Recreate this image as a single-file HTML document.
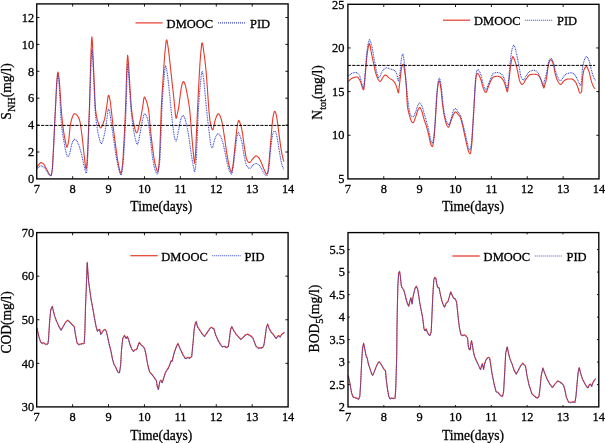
<!DOCTYPE html><html><head><meta charset="utf-8"><title>Figure</title><style>html,body{margin:0;padding:0;background:#fff}svg{display:block}text{font-family:"Liberation Serif","DejaVu Serif",serif;fill:#000;stroke:#000;stroke-width:0.3px}</style></head><body>
<svg width="605" height="443" viewBox="0 0 605 443">
<rect width="605" height="443" fill="#fff"/>
<path d="M36.75,167.60 L37.15,166.90 L37.55,166.25 L37.95,165.64 L38.35,165.08 L38.75,164.58 L39.15,164.14 L39.55,163.68 L39.95,163.23 L40.35,162.87 L40.75,162.64 L41.15,162.61 L41.55,162.70 L41.95,162.87 L42.35,163.11 L42.75,163.40 L43.15,163.71 L43.55,164.04 L43.95,164.46 L44.35,165.01 L44.75,165.67 L45.15,166.40 L45.55,167.18 L45.95,167.98 L46.35,168.78 L46.75,169.55 L47.15,170.27 L47.55,171.05 L47.95,171.86 L48.35,172.67 L48.75,173.42 L49.15,174.06 L49.55,174.55 L49.95,174.99 L50.35,175.36 L50.75,175.58 L51.15,175.33 L51.55,173.92 L51.95,171.67 L52.35,168.65 L52.75,162.64 L53.15,154.84 L53.55,147.17 L53.95,139.06 L54.35,130.60 L54.75,122.33 L55.15,114.15 L55.55,106.01 L55.95,97.41 L56.35,88.79 L56.75,82.36 L57.15,77.30 L57.55,73.35 L57.95,72.02 L58.35,73.37 L58.75,76.08 L59.15,79.28 L59.55,83.89 L59.95,89.46 L60.35,95.19 L60.75,101.69 L61.15,107.99 L61.55,113.03 L61.95,117.51 L62.35,121.51 L62.75,125.00 L63.15,128.07 L63.55,130.90 L63.95,133.50 L64.35,135.89 L64.75,138.06 L65.15,140.04 L65.55,142.10 L65.95,144.16 L66.35,145.89 L66.75,146.99 L67.15,147.12 L67.55,146.18 L67.95,144.48 L68.35,142.37 L68.75,140.05 L69.15,136.48 L69.55,132.16 L69.95,128.05 L70.35,125.12 L70.75,123.00 L71.15,121.15 L71.55,119.55 L71.95,118.23 L72.35,117.18 L72.75,116.24 L73.15,115.35 L73.55,114.59 L73.95,114.02 L74.35,113.73 L74.75,113.72 L75.15,113.85 L75.55,114.07 L75.95,114.35 L76.35,114.69 L76.75,115.06 L77.15,115.45 L77.55,115.92 L77.95,116.50 L78.35,117.19 L78.75,118.01 L79.15,118.96 L79.55,120.05 L79.95,121.62 L80.35,123.77 L80.75,126.35 L81.15,129.21 L81.55,132.20 L81.95,135.17 L82.35,138.43 L82.75,142.08 L83.15,145.93 L83.55,149.80 L83.95,153.49 L84.35,156.82 L84.75,160.09 L85.15,163.60 L85.55,166.70 L85.95,168.70 L86.35,168.80 L86.75,165.65 L87.15,160.66 L87.55,153.35 L87.95,143.85 L88.35,134.17 L88.75,124.16 L89.15,114.43 L89.55,103.47 L89.95,88.70 L90.35,73.04 L90.75,60.75 L91.15,49.12 L91.55,39.95 L91.95,36.87 L92.35,41.36 L92.75,49.74 L93.15,58.04 L93.55,67.26 L93.95,77.05 L94.35,86.06 L94.75,95.09 L95.15,103.61 L95.55,109.54 L95.95,112.71 L96.35,115.29 L96.75,117.41 L97.15,119.16 L97.55,120.64 L97.95,121.94 L98.35,123.17 L98.75,124.41 L99.15,125.57 L99.55,126.58 L99.95,127.36 L100.35,127.81 L100.75,127.88 L101.15,127.65 L101.55,127.17 L101.95,126.48 L102.35,125.62 L102.75,124.61 L103.15,123.49 L103.55,122.28 L103.95,121.02 L104.35,119.74 L104.75,118.14 L105.15,116.13 L105.55,113.82 L105.95,111.33 L106.35,108.79 L106.75,106.30 L107.15,103.48 L107.55,100.11 L107.95,97.06 L108.35,95.27 L108.75,95.30 L109.15,96.32 L109.55,97.92 L109.95,99.77 L110.35,102.08 L110.75,105.29 L111.15,108.90 L111.55,112.42 L111.95,115.97 L112.35,119.64 L112.75,123.25 L113.15,126.65 L113.55,129.91 L113.95,133.09 L114.35,136.19 L114.75,139.24 L115.15,142.22 L115.55,145.17 L115.95,148.16 L116.35,151.20 L116.75,154.18 L117.15,157.01 L117.55,159.60 L117.95,161.85 L118.35,163.90 L118.75,166.02 L119.15,168.08 L119.55,169.96 L119.95,171.53 L120.35,172.67 L120.75,173.25 L121.15,173.02 L121.55,171.56 L121.95,169.17 L122.35,166.19 L122.75,162.31 L123.15,156.00 L123.55,148.86 L123.95,141.95 L124.35,134.58 L124.75,126.48 L125.15,117.26 L125.55,106.89 L125.95,95.50 L126.35,82.14 L126.75,70.80 L127.15,60.92 L127.55,55.19 L127.95,56.92 L128.35,61.74 L128.75,66.98 L129.15,73.36 L129.55,80.49 L129.95,87.24 L130.35,93.38 L130.75,99.51 L131.15,105.09 L131.55,109.55 L131.95,112.92 L132.35,115.91 L132.75,118.57 L133.15,120.92 L133.55,122.98 L133.95,124.78 L134.35,126.42 L134.75,128.06 L135.15,129.63 L135.55,131.00 L135.95,132.06 L136.35,132.68 L136.75,132.76 L137.15,132.33 L137.55,131.47 L137.95,130.26 L138.35,128.77 L138.75,127.07 L139.15,125.24 L139.55,123.35 L139.95,121.47 L140.35,119.68 L140.75,117.78 L141.15,115.67 L141.55,113.40 L141.95,111.04 L142.35,108.65 L142.75,106.29 L143.15,103.57 L143.55,100.41 L143.95,97.88 L144.35,97.00 L144.75,97.32 L145.15,98.01 L145.55,98.91 L145.95,99.88 L146.35,100.89 L146.75,102.10 L147.15,103.48 L147.55,105.05 L147.95,106.77 L148.35,108.73 L148.75,111.15 L149.15,114.40 L149.55,119.37 L149.95,124.46 L150.35,128.57 L150.75,132.45 L151.15,136.13 L151.55,139.62 L151.95,142.93 L152.35,146.07 L152.75,149.08 L153.15,152.09 L153.55,155.00 L153.95,157.74 L154.35,160.21 L154.75,162.31 L155.15,164.00 L155.55,165.61 L155.95,167.17 L156.35,168.61 L156.75,169.85 L157.15,170.81 L157.55,171.42 L157.95,171.58 L158.35,170.12 L158.75,166.87 L159.15,162.57 L159.55,155.68 L159.95,145.99 L160.35,135.19 L160.75,123.40 L161.15,111.19 L161.55,102.76 L161.95,95.75 L162.35,89.58 L162.75,83.73 L163.15,77.70 L163.55,71.48 L163.95,65.38 L164.35,59.68 L164.75,54.67 L165.15,50.49 L165.55,46.31 L165.95,42.60 L166.35,40.18 L166.75,39.82 L167.15,41.18 L167.55,43.54 L167.95,46.32 L168.35,49.00 L168.75,52.01 L169.15,55.40 L169.55,58.97 L169.95,62.54 L170.35,66.20 L170.75,70.01 L171.15,73.86 L171.55,77.68 L171.95,81.36 L172.35,84.89 L172.75,88.37 L173.15,91.88 L173.55,95.53 L173.95,99.48 L174.35,103.67 L174.75,107.71 L175.15,111.39 L175.55,115.38 L175.95,118.13 L176.35,118.10 L176.75,116.67 L177.15,114.67 L177.55,112.79 L177.95,111.13 L178.35,109.31 L178.75,107.09 L179.15,104.13 L179.55,100.72 L179.95,97.23 L180.35,94.04 L180.75,91.33 L181.15,88.70 L181.55,86.37 L181.95,84.66 L182.35,83.48 L182.75,82.45 L183.15,81.73 L183.55,81.50 L183.95,81.86 L184.35,82.65 L184.75,83.70 L185.15,84.86 L185.55,86.17 L185.95,87.87 L186.35,89.84 L186.75,91.97 L187.15,94.13 L187.55,96.26 L187.95,98.41 L188.35,100.65 L188.75,103.08 L189.15,105.76 L189.55,108.77 L189.95,112.36 L190.35,116.98 L190.75,122.26 L191.15,127.75 L191.55,132.99 L191.95,137.75 L192.35,142.51 L192.75,147.14 L193.15,151.41 L193.55,155.14 L193.95,158.97 L194.35,162.24 L194.75,163.34 L195.15,159.50 L195.55,152.82 L195.95,145.12 L196.35,135.91 L196.75,126.90 L197.15,117.72 L197.55,108.94 L197.95,100.49 L198.35,92.29 L198.75,84.53 L199.15,77.35 L199.55,70.34 L199.95,63.73 L200.35,57.97 L200.75,53.35 L201.15,48.89 L201.55,45.08 L201.95,42.90 L202.35,43.04 L202.75,44.73 L203.15,47.33 L203.55,50.26 L203.95,53.00 L204.35,55.85 L204.75,58.97 L205.15,62.37 L205.55,66.04 L205.95,70.02 L206.35,74.59 L206.75,79.75 L207.15,85.21 L207.55,90.69 L207.95,96.64 L208.35,102.81 L208.75,108.30 L209.15,112.60 L209.55,116.57 L209.95,120.13 L210.35,123.07 L210.75,125.20 L211.15,126.71 L211.55,128.06 L211.95,129.13 L212.35,129.78 L212.75,129.83 L213.15,129.08 L213.55,127.68 L213.95,125.86 L214.35,123.84 L214.75,121.85 L215.15,120.12 L215.55,118.87 L215.95,117.84 L216.35,116.80 L216.75,115.81 L217.15,114.95 L217.55,114.27 L217.95,113.83 L218.35,113.70 L218.75,113.90 L219.15,114.37 L219.55,115.02 L219.95,115.79 L220.35,116.60 L220.75,117.63 L221.15,118.96 L221.55,120.51 L221.95,122.18 L222.35,124.04 L222.75,126.19 L223.15,128.57 L223.55,131.10 L223.95,133.71 L224.35,136.33 L224.75,138.96 L225.15,141.78 L225.55,144.72 L225.95,147.67 L226.35,150.52 L226.75,153.18 L227.15,155.57 L227.55,157.86 L227.95,160.09 L228.35,162.20 L228.75,164.13 L229.15,165.83 L229.55,167.27 L229.95,168.63 L230.35,169.96 L230.75,171.10 L231.15,171.86 L231.55,172.09 L231.95,171.16 L232.35,169.15 L232.75,166.61 L233.15,163.98 L233.55,160.59 L233.95,156.65 L234.35,152.67 L234.75,148.83 L235.15,144.84 L235.55,140.86 L235.95,137.04 L236.35,133.48 L236.75,129.88 L237.15,126.63 L237.55,124.26 L237.95,122.37 L238.35,120.90 L238.75,120.41 L239.15,120.82 L239.55,121.70 L239.95,122.81 L240.35,123.91 L240.75,125.17 L241.15,126.63 L241.55,128.29 L241.95,130.14 L242.35,132.43 L242.75,135.18 L243.15,138.19 L243.55,141.27 L243.95,144.24 L244.35,146.90 L244.75,149.35 L245.15,151.90 L245.55,154.36 L245.95,156.59 L246.35,158.39 L246.75,159.60 L247.15,160.35 L247.55,161.03 L247.95,161.62 L248.35,162.09 L248.75,162.42 L249.15,162.59 L249.55,162.56 L249.95,162.36 L250.35,162.02 L250.75,161.56 L251.15,161.03 L251.55,160.45 L251.95,159.86 L252.35,159.29 L252.75,158.78 L253.15,158.35 L253.55,157.93 L253.95,157.47 L254.35,157.02 L254.75,156.60 L255.15,156.25 L255.55,156.01 L255.95,155.90 L256.35,155.95 L256.75,156.10 L257.15,156.33 L257.55,156.64 L257.95,156.99 L258.35,157.36 L258.75,157.77 L259.15,158.35 L259.55,159.04 L259.95,159.81 L260.35,160.61 L260.75,161.40 L261.15,162.28 L261.55,163.22 L261.95,164.20 L262.35,165.21 L262.75,166.23 L263.15,167.22 L263.55,168.18 L263.95,169.08 L264.35,169.91 L264.75,170.83 L265.15,171.79 L265.55,172.70 L265.95,173.45 L266.35,173.95 L266.75,174.09 L267.15,173.64 L267.55,172.58 L267.95,171.08 L268.35,169.10 L268.75,165.06 L269.15,160.26 L269.55,155.78 L269.95,151.10 L270.35,146.32 L270.75,141.56 L271.15,136.79 L271.55,131.78 L271.95,126.97 L272.35,122.84 L272.75,119.42 L273.15,116.40 L273.55,114.20 L273.95,112.73 L274.35,111.59 L274.75,111.21 L275.15,111.63 L275.55,112.53 L275.95,113.65 L276.35,115.37 L276.75,117.71 L277.15,120.21 L277.55,122.92 L277.95,125.91 L278.35,129.05 L278.75,132.18 L279.15,135.16 L279.55,138.11 L279.95,141.11 L280.35,144.08 L280.75,146.92 L281.15,149.57 L281.55,151.93 L281.95,153.99 L282.35,155.85 L282.75,157.53 L283.15,159.06 L283.55,160.44 L283.95,161.68" fill="none" stroke="#e63a2b" stroke-width="1.1" stroke-linejoin="round"/>
<path d="M36.75,168.90 L37.15,168.44 L37.55,168.01 L37.95,167.61 L38.35,167.26 L38.75,166.96 L39.15,166.71 L39.55,166.46 L39.95,166.23 L40.35,166.04 L40.75,165.92 L41.15,165.91 L41.55,165.98 L41.95,166.11 L42.35,166.30 L42.75,166.53 L43.15,166.78 L43.55,167.03 L43.95,167.35 L44.35,167.77 L44.75,168.26 L45.15,168.80 L45.55,169.38 L45.95,169.98 L46.35,170.58 L46.75,171.16 L47.15,171.71 L47.55,172.30 L47.95,172.92 L48.35,173.54 L48.75,174.12 L49.15,174.63 L49.55,175.05 L49.95,175.43 L50.35,175.78 L50.75,175.98 L51.15,175.73 L51.55,174.35 L51.95,172.14 L52.35,169.18 L52.75,163.37 L53.15,155.77 L53.55,148.16 L53.95,139.90 L54.35,131.25 L54.75,122.94 L55.15,114.83 L55.55,106.96 L55.95,99.09 L56.35,91.44 L56.75,85.35 L57.15,79.96 L57.55,75.88 L57.95,75.16 L58.35,76.83 L58.75,79.62 L59.15,84.25 L59.55,91.14 L59.95,98.91 L60.35,107.30 L60.75,114.08 L61.15,120.08 L61.55,124.91 L61.95,128.53 L62.35,131.65 L62.75,134.39 L63.15,136.86 L63.55,139.17 L63.95,141.44 L64.35,143.74 L64.75,145.99 L65.15,148.13 L65.55,150.09 L65.95,151.81 L66.35,153.44 L66.75,155.07 L67.15,156.29 L67.55,156.70 L67.95,156.56 L68.35,156.24 L68.75,155.80 L69.15,155.26 L69.55,154.17 L69.95,152.58 L70.35,150.67 L70.75,148.63 L71.15,146.65 L71.55,144.92 L71.95,143.62 L72.35,142.67 L72.75,141.73 L73.15,140.87 L73.55,140.14 L73.95,139.60 L74.35,139.32 L74.75,139.33 L75.15,139.47 L75.55,139.71 L75.95,140.02 L76.35,140.36 L76.75,140.77 L77.15,141.36 L77.55,142.11 L77.95,142.95 L78.35,143.84 L78.75,144.86 L79.15,146.00 L79.55,147.25 L79.95,148.59 L80.35,150.01 L80.75,151.49 L81.15,153.00 L81.55,154.54 L81.95,156.10 L82.35,157.79 L82.75,159.64 L83.15,161.57 L83.55,163.49 L83.95,165.30 L84.35,166.92 L84.75,168.47 L85.15,170.13 L85.55,171.65 L85.95,172.79 L86.35,173.29 L86.75,171.53 L87.15,166.61 L87.55,160.53 L87.95,151.66 L88.35,141.33 L88.75,129.58 L89.15,119.04 L89.55,109.11 L89.95,96.94 L90.35,82.55 L90.75,70.79 L91.15,60.77 L91.55,52.63 L91.95,49.85 L92.35,53.28 L92.75,59.60 L93.15,66.36 L93.55,74.85 L93.95,83.90 L94.35,93.51 L94.75,103.50 L95.15,110.66 L95.55,115.32 L95.95,119.10 L96.35,122.25 L96.75,125.06 L97.15,127.72 L97.55,130.22 L97.95,132.54 L98.35,134.64 L98.75,136.50 L99.15,138.08 L99.55,139.44 L99.95,140.79 L100.35,142.02 L100.75,142.95 L101.15,143.46 L101.55,143.40 L101.95,142.89 L102.35,141.99 L102.75,140.80 L103.15,139.38 L103.55,137.82 L103.95,136.20 L104.35,134.60 L104.75,132.75 L105.15,130.54 L105.55,128.07 L105.95,125.46 L106.35,122.80 L106.75,120.21 L107.15,117.30 L107.55,113.86 L107.95,110.78 L108.35,108.97 L108.75,108.99 L109.15,109.90 L109.55,111.18 L109.95,113.43 L110.35,116.36 L110.75,119.07 L111.15,121.81 L111.55,124.59 L111.95,127.41 L112.35,130.23 L112.75,133.05 L113.15,135.85 L113.55,138.71 L113.95,141.60 L114.35,144.47 L114.75,147.28 L115.15,149.98 L115.55,152.51 L115.95,154.97 L116.35,157.42 L116.75,159.77 L117.15,161.98 L117.55,163.98 L117.95,165.71 L118.35,167.27 L118.75,168.86 L119.15,170.41 L119.55,171.86 L119.95,173.12 L120.35,174.13 L120.75,174.81 L121.15,175.10 L121.55,174.45 L121.95,172.48 L122.35,169.78 L122.75,166.82 L123.15,162.72 L123.55,157.75 L123.95,151.83 L124.35,145.06 L124.75,137.68 L125.15,129.89 L125.55,121.47 L125.95,111.86 L126.35,99.94 L126.75,83.39 L127.15,71.04 L127.55,63.43 L127.95,65.25 L128.35,70.14 L128.75,75.28 L129.15,81.53 L129.55,88.14 L129.95,94.21 L130.35,100.17 L130.75,105.79 L131.15,110.53 L131.55,114.55 L131.95,118.16 L132.35,121.42 L132.75,124.37 L133.15,127.07 L133.55,129.64 L133.95,132.06 L134.35,134.28 L134.75,136.28 L135.15,138.02 L135.55,139.56 L135.95,141.12 L136.35,142.54 L136.75,143.65 L137.15,144.25 L137.55,144.15 L137.95,143.37 L138.35,142.03 L138.75,140.28 L139.15,138.26 L139.55,136.13 L139.95,134.02 L140.35,132.07 L140.75,129.98 L141.15,127.65 L141.55,125.22 L141.95,122.85 L142.35,120.69 L142.75,118.89 L143.15,117.32 L143.55,115.76 L143.95,114.48 L144.35,113.76 L144.75,113.75 L145.15,114.01 L145.55,114.43 L145.95,114.94 L146.35,115.57 L146.75,116.47 L147.15,117.62 L147.55,118.97 L147.95,120.53 L148.35,122.65 L148.75,125.29 L149.15,128.28 L149.55,131.45 L149.95,134.61 L150.35,137.91 L150.75,141.63 L151.15,145.54 L151.55,149.42 L151.95,153.05 L152.35,156.19 L152.75,158.78 L153.15,161.21 L153.55,163.48 L153.95,165.55 L154.35,167.35 L154.75,168.85 L155.15,170.01 L155.55,171.09 L155.95,172.10 L156.35,172.97 L156.75,173.64 L157.15,174.03 L157.55,173.99 L157.95,172.75 L158.35,170.64 L158.75,168.28 L159.15,165.96 L159.55,163.10 L159.95,159.09 L160.35,151.62 L160.75,141.47 L161.15,130.98 L161.55,119.01 L161.95,108.98 L162.35,101.47 L162.75,94.96 L163.15,89.33 L163.55,84.41 L163.95,79.49 L164.35,74.59 L164.75,70.30 L165.15,67.18 L165.55,65.82 L165.95,66.29 L166.35,67.84 L166.75,70.11 L167.15,72.72 L167.55,75.32 L167.95,78.25 L168.35,81.72 L168.75,85.54 L169.15,89.53 L169.55,93.49 L169.95,97.66 L170.35,102.05 L170.75,106.41 L171.15,110.49 L171.55,114.38 L171.95,118.15 L172.35,121.73 L172.75,125.01 L173.15,128.16 L173.55,131.34 L173.95,134.29 L174.35,136.75 L174.75,138.45 L175.15,139.55 L175.55,140.45 L175.95,140.95 L176.35,140.79 L176.75,139.71 L177.15,137.93 L177.55,135.74 L177.95,133.38 L178.35,131.13 L178.75,129.19 L179.15,127.15 L179.55,124.98 L179.95,122.86 L180.35,120.95 L180.75,119.40 L181.15,118.35 L181.55,117.43 L181.95,116.61 L182.35,115.96 L182.75,115.57 L183.15,115.53 L183.55,115.87 L183.95,116.47 L184.35,117.21 L184.75,118.06 L185.15,119.24 L185.55,120.67 L185.95,122.21 L186.35,123.82 L186.75,125.59 L187.15,127.50 L187.55,129.54 L187.95,131.69 L188.35,133.94 L188.75,136.32 L189.15,138.98 L189.55,141.83 L189.95,144.78 L190.35,147.72 L190.75,150.54 L191.15,153.17 L191.55,155.77 L191.95,158.36 L192.35,160.87 L192.75,163.25 L193.15,165.42 L193.55,167.33 L193.95,169.31 L194.35,171.00 L194.75,171.58 L195.15,170.16 L195.55,167.20 L195.95,163.39 L196.35,157.00 L196.75,149.02 L197.15,139.69 L197.55,129.09 L197.95,119.50 L198.35,110.90 L198.75,104.18 L199.15,98.23 L199.55,93.01 L199.95,88.51 L200.35,84.32 L200.75,80.05 L201.15,76.19 L201.55,73.23 L201.95,71.64 L202.35,71.82 L202.75,73.38 L203.15,75.74 L203.55,78.33 L203.95,81.66 L204.35,85.85 L204.75,90.32 L205.15,94.57 L205.55,98.89 L205.95,103.28 L206.35,107.52 L206.75,111.43 L207.15,115.10 L207.55,118.63 L207.95,122.04 L208.35,125.38 L208.75,128.67 L209.15,132.06 L209.55,135.76 L209.95,139.38 L210.35,142.48 L210.75,144.62 L211.15,145.94 L211.55,147.03 L211.95,147.64 L212.35,147.54 L212.75,146.70 L213.15,145.35 L213.55,143.73 L213.95,142.05 L214.35,140.55 L214.75,139.41 L215.15,138.33 L215.55,137.27 L215.95,136.27 L216.35,135.40 L216.75,134.71 L217.15,134.26 L217.55,133.93 L217.95,133.68 L218.35,133.60 L218.75,133.80 L219.15,134.24 L219.55,134.82 L219.95,135.43 L220.35,136.06 L220.75,136.80 L221.15,137.66 L221.55,138.61 L221.95,139.66 L222.35,140.86 L222.75,142.26 L223.15,143.82 L223.55,145.51 L223.95,147.26 L224.35,149.04 L224.75,150.85 L225.15,152.83 L225.55,154.93 L225.95,157.06 L226.35,159.12 L226.75,161.02 L227.15,162.71 L227.55,164.34 L227.95,165.91 L228.35,167.40 L228.75,168.75 L229.15,169.94 L229.55,170.91 L229.95,171.82 L230.35,172.70 L230.75,173.44 L231.15,173.94 L231.55,174.09 L231.95,173.29 L232.35,171.56 L232.75,169.38 L233.15,167.13 L233.55,164.27 L233.95,160.96 L234.35,157.60 L234.75,154.32 L235.15,150.89 L235.55,147.47 L235.95,144.20 L236.35,141.18 L236.75,138.21 L237.15,135.70 L237.55,133.96 L237.95,132.60 L238.35,132.35 L238.75,132.87 L239.15,133.78 L239.55,134.85 L239.95,135.87 L240.35,136.95 L240.75,138.13 L241.15,139.45 L241.55,140.90 L241.95,142.51 L242.35,144.53 L242.75,146.98 L243.15,149.64 L243.55,152.33 L243.95,154.84 L244.35,156.97 L244.75,158.78 L245.15,160.56 L245.55,162.23 L245.95,163.72 L246.35,164.94 L246.75,165.82 L247.15,166.44 L247.55,167.02 L247.95,167.53 L248.35,167.94 L248.75,168.24 L249.15,168.39 L249.55,168.37 L249.95,168.21 L250.35,167.93 L250.75,167.56 L251.15,167.14 L251.55,166.68 L251.95,166.21 L252.35,165.77 L252.75,165.38 L253.15,165.06 L253.55,164.77 L253.95,164.45 L254.35,164.14 L254.75,163.86 L255.15,163.63 L255.55,163.47 L255.95,163.40 L256.35,163.44 L256.75,163.58 L257.15,163.80 L257.55,164.07 L257.95,164.37 L258.35,164.68 L258.75,165.01 L259.15,165.41 L259.55,165.87 L259.95,166.37 L260.35,166.90 L260.75,167.45 L261.15,168.08 L261.55,168.77 L261.95,169.50 L262.35,170.25 L262.75,170.99 L263.15,171.71 L263.55,172.37 L263.95,172.97 L264.35,173.49 L264.75,174.02 L265.15,174.56 L265.55,175.05 L265.95,175.45 L266.35,175.72 L266.75,175.79 L267.15,175.35 L267.55,174.34 L267.95,172.96 L268.35,171.29 L268.75,168.47 L269.15,165.03 L269.55,161.29 L269.95,156.96 L270.35,152.53 L270.75,148.50 L271.15,145.11 L271.55,141.72 L271.95,138.54 L272.35,135.88 L272.75,134.03 L273.15,133.05 L273.55,132.25 L273.95,131.62 L274.35,131.22 L274.75,131.10 L275.15,131.41 L275.55,132.06 L275.95,132.89 L276.35,134.02 L276.75,135.67 L277.15,137.54 L277.55,139.71 L277.95,142.22 L278.35,144.89 L278.75,147.54 L279.15,149.99 L279.55,152.39 L279.95,154.83 L280.35,157.21 L280.75,159.46 L281.15,161.49 L281.55,163.21 L281.95,164.62 L282.35,165.84 L282.75,166.90 L283.15,167.84 L283.55,168.66 L283.95,169.37" fill="none" stroke="#3040c8" stroke-width="1.1" stroke-linejoin="round" stroke-dasharray="0.9 0.8"/>
<line x1="36.75" y1="125.40" x2="288.10" y2="125.40" stroke="#000" stroke-width="1.0" stroke-dasharray="3.2 1.1"/>
<rect x="36.75" y="3.90" width="251.35" height="175.00" fill="none" stroke="#000" stroke-width="1.35"/>
<text transform="translate(36.75,192.50) scale(0.940,1)" font-size="13.2" text-anchor="middle">7</text>
<path d="M72.66,178.90 v-2.7 M72.66,3.90 v2.7" stroke="#000" stroke-width="0.9"/>
<text transform="translate(72.66,192.50) scale(0.940,1)" font-size="13.2" text-anchor="middle">8</text>
<path d="M108.56,178.90 v-2.7 M108.56,3.90 v2.7" stroke="#000" stroke-width="0.9"/>
<text transform="translate(108.56,192.50) scale(0.940,1)" font-size="13.2" text-anchor="middle">9</text>
<path d="M144.47,178.90 v-2.7 M144.47,3.90 v2.7" stroke="#000" stroke-width="0.9"/>
<text transform="translate(144.47,192.50) scale(0.940,1)" font-size="13.2" text-anchor="middle">10</text>
<path d="M180.38,178.90 v-2.7 M180.38,3.90 v2.7" stroke="#000" stroke-width="0.9"/>
<text transform="translate(180.38,192.50) scale(0.940,1)" font-size="13.2" text-anchor="middle">11</text>
<path d="M216.29,178.90 v-2.7 M216.29,3.90 v2.7" stroke="#000" stroke-width="0.9"/>
<text transform="translate(216.29,192.50) scale(0.940,1)" font-size="13.2" text-anchor="middle">12</text>
<path d="M252.19,178.90 v-2.7 M252.19,3.90 v2.7" stroke="#000" stroke-width="0.9"/>
<text transform="translate(252.19,192.50) scale(0.940,1)" font-size="13.2" text-anchor="middle">13</text>
<text transform="translate(288.10,192.50) scale(0.940,1)" font-size="13.2" text-anchor="middle">14</text>
<text transform="translate(34.15,183.10) scale(0.940,1)" font-size="13.2" text-anchor="end">0</text>
<path d="M36.75,152.00 h2.7 M288.10,152.00 h-2.7" stroke="#000" stroke-width="0.9"/>
<text transform="translate(34.15,156.20) scale(0.940,1)" font-size="13.2" text-anchor="end">2</text>
<path d="M36.75,125.10 h2.7 M288.10,125.10 h-2.7" stroke="#000" stroke-width="0.9"/>
<text transform="translate(34.15,129.30) scale(0.940,1)" font-size="13.2" text-anchor="end">4</text>
<path d="M36.75,98.20 h2.7 M288.10,98.20 h-2.7" stroke="#000" stroke-width="0.9"/>
<text transform="translate(34.15,102.40) scale(0.940,1)" font-size="13.2" text-anchor="end">6</text>
<path d="M36.75,71.30 h2.7 M288.10,71.30 h-2.7" stroke="#000" stroke-width="0.9"/>
<text transform="translate(34.15,75.50) scale(0.940,1)" font-size="13.2" text-anchor="end">8</text>
<path d="M36.75,44.40 h2.7 M288.10,44.40 h-2.7" stroke="#000" stroke-width="0.9"/>
<text transform="translate(34.15,48.60) scale(0.940,1)" font-size="13.2" text-anchor="end">10</text>
<path d="M36.75,17.50 h2.7 M288.10,17.50 h-2.7" stroke="#000" stroke-width="0.9"/>
<text transform="translate(34.15,21.70) scale(0.940,1)" font-size="13.2" text-anchor="end">12</text>
<text transform="translate(161.30,211.40) scale(0.940,1)" font-size="14.4" text-anchor="middle">Time(days)</text>
<text transform="translate(11.20,91.50) rotate(-90) scale(0.940,1)" font-size="14.4" text-anchor="middle">S<tspan font-size="11" dy="4.0">NH</tspan><tspan dy="-4.0">(mg/l)</tspan></text>
<line x1="135.50" y1="22.90" x2="162.60" y2="22.90" stroke="#e63a2b" stroke-width="1.2"/>
<text transform="translate(166.60,27.60) scale(0.955,1)" font-size="13.1" text-anchor="start">DMOOC</text>
<line x1="218.00" y1="22.90" x2="246.00" y2="22.90" stroke="#3040c8" stroke-width="1.1" stroke-dasharray="1 1"/>
<text transform="translate(250.00,27.60) scale(0.955,1)" font-size="13.1" text-anchor="start">PID</text>
<path d="M348.50,81.40 L348.90,80.94 L349.30,80.51 L349.70,80.10 L350.10,79.72 L350.50,79.38 L350.90,79.07 L351.30,78.79 L351.70,78.53 L352.10,78.29 L352.50,78.07 L352.90,77.88 L353.30,77.73 L353.70,77.61 L354.10,77.50 L354.50,77.39 L354.90,77.29 L355.30,77.21 L355.70,77.13 L356.10,77.07 L356.50,77.03 L356.90,77.00 L357.30,77.02 L357.70,77.21 L358.10,77.56 L358.50,78.03 L358.90,78.61 L359.30,79.27 L359.70,79.97 L360.10,80.70 L360.50,81.66 L360.90,82.94 L361.30,84.37 L361.70,85.76 L362.10,86.90 L362.50,87.94 L362.90,88.97 L363.30,89.70 L363.70,89.74 L364.10,86.88 L364.50,83.10 L364.90,78.94 L365.30,74.50 L365.70,69.93 L366.10,65.12 L366.50,60.45 L366.90,56.33 L367.30,53.05 L367.70,50.27 L368.10,47.98 L368.50,46.03 L368.90,44.27 L369.30,43.50 L369.70,44.15 L370.10,45.64 L370.50,47.66 L370.90,50.27 L371.30,52.45 L371.70,54.51 L372.10,56.47 L372.50,58.36 L372.90,60.23 L373.30,62.10 L373.70,64.03 L374.10,65.99 L374.50,67.94 L374.90,69.79 L375.30,71.49 L375.70,72.97 L376.10,74.24 L376.50,75.45 L376.90,76.57 L377.30,77.58 L377.70,78.46 L378.10,79.20 L378.50,79.78 L378.90,80.34 L379.30,80.84 L379.70,81.21 L380.10,81.39 L380.50,81.31 L380.90,80.94 L381.30,80.36 L381.70,79.64 L382.10,78.86 L382.50,78.09 L382.90,77.41 L383.30,76.88 L383.70,76.36 L384.10,75.83 L384.50,75.38 L384.90,75.08 L385.30,75.00 L385.70,75.09 L386.10,75.27 L386.50,75.53 L386.90,75.86 L387.30,76.23 L387.70,76.63 L388.10,77.03 L388.50,77.43 L388.90,77.80 L389.30,78.13 L389.70,78.40 L390.10,78.65 L390.50,78.88 L390.90,79.11 L391.30,79.33 L391.70,79.57 L392.10,79.82 L392.50,80.11 L392.90,80.43 L393.30,80.80 L393.70,81.25 L394.10,81.78 L394.50,82.39 L394.90,83.07 L395.30,83.81 L395.70,84.61 L396.10,85.54 L396.50,86.63 L396.90,87.82 L397.30,89.08 L397.70,90.67 L398.10,92.50 L398.50,92.92 L398.90,89.86 L399.30,86.19 L399.70,82.81 L400.10,79.50 L400.50,76.13 L400.90,72.64 L401.30,69.55 L401.70,67.35 L402.10,66.12 L402.50,65.09 L402.90,64.37 L403.30,64.10 L403.70,64.95 L404.10,67.07 L404.50,69.86 L404.90,72.71 L405.30,75.94 L405.70,79.83 L406.10,84.37 L406.50,90.18 L406.90,98.62 L407.30,104.90 L407.70,107.82 L408.10,110.08 L408.50,111.87 L408.90,113.38 L409.30,114.80 L409.70,116.24 L410.10,117.62 L410.50,118.90 L410.90,120.04 L411.30,120.97 L411.70,121.67 L412.10,122.16 L412.50,122.57 L412.90,122.79 L413.30,122.66 L413.70,122.10 L414.10,121.23 L414.50,120.14 L414.90,118.97 L415.30,117.83 L415.70,116.77 L416.10,115.56 L416.50,114.25 L416.90,112.92 L417.30,111.66 L417.70,110.56 L418.10,109.70 L418.50,108.90 L418.90,108.16 L419.30,107.61 L419.70,107.40 L420.10,107.63 L420.50,108.24 L420.90,109.11 L421.30,110.10 L421.70,111.10 L422.10,112.20 L422.50,113.53 L422.90,115.01 L423.30,116.55 L423.70,118.06 L424.10,119.47 L424.50,120.73 L424.90,121.90 L425.30,123.02 L425.70,124.14 L426.10,125.30 L426.50,126.54 L426.90,127.90 L427.30,129.37 L427.70,130.94 L428.10,132.58 L428.50,134.25 L428.90,135.94 L429.30,137.63 L429.70,139.58 L430.10,141.61 L430.50,143.39 L430.90,144.60 L431.30,145.39 L431.70,146.05 L432.10,146.49 L432.50,146.53 L432.90,145.14 L433.30,143.00 L433.70,140.50 L434.10,137.20 L434.50,132.77 L434.90,127.26 L435.30,121.29 L435.70,114.98 L436.10,107.97 L436.50,101.36 L436.90,95.80 L437.30,91.01 L437.70,87.18 L438.10,84.06 L438.50,82.17 L438.90,80.90 L439.30,80.87 L439.70,81.92 L440.10,83.40 L440.50,85.59 L440.90,88.45 L441.30,91.78 L441.70,96.12 L442.10,100.54 L442.50,104.05 L442.90,107.17 L443.30,110.03 L443.70,112.58 L444.10,114.80 L444.50,116.80 L444.90,118.70 L445.30,120.45 L445.70,122.00 L446.10,123.30 L446.50,124.30 L446.90,125.14 L447.30,125.92 L447.70,126.58 L448.10,127.03 L448.50,127.20 L448.90,126.88 L449.30,126.04 L449.70,124.86 L450.10,123.51 L450.50,122.16 L450.90,121.00 L451.30,119.96 L451.70,118.88 L452.10,117.81 L452.50,116.78 L452.90,115.82 L453.30,114.99 L453.70,114.23 L454.10,113.45 L454.50,112.73 L454.90,112.18 L455.30,111.91 L455.70,111.95 L456.10,112.17 L456.50,112.51 L456.90,112.95 L457.30,113.44 L457.70,113.96 L458.10,114.46 L458.50,114.91 L458.90,115.31 L459.30,115.72 L459.70,116.19 L460.10,116.80 L460.50,117.69 L460.90,118.92 L461.30,120.37 L461.70,121.94 L462.10,123.50 L462.50,125.10 L462.90,126.84 L463.30,128.66 L463.70,130.53 L464.10,132.41 L464.50,134.25 L464.90,136.06 L465.30,137.90 L465.70,139.76 L466.10,141.59 L466.50,143.38 L466.90,145.09 L467.30,146.72 L467.70,148.42 L468.10,150.03 L468.50,151.38 L468.90,152.29 L469.30,153.02 L469.70,153.58 L470.10,153.80 L470.50,153.07 L470.90,151.17 L471.30,148.55 L471.70,145.19 L472.10,139.39 L472.50,132.32 L472.90,125.60 L473.30,119.10 L473.70,112.45 L474.10,105.68 L474.50,98.49 L474.90,91.90 L475.30,85.89 L475.70,80.45 L476.10,77.00 L476.50,75.16 L476.90,73.82 L477.30,73.30 L477.70,73.43 L478.10,73.79 L478.50,74.34 L478.90,75.05 L479.30,75.89 L479.70,76.81 L480.10,77.78 L480.50,78.77 L480.90,79.75 L481.30,80.99 L481.70,82.48 L482.10,84.09 L482.50,85.68 L482.90,87.09 L483.30,88.20 L483.70,89.13 L484.10,90.05 L484.50,90.91 L484.90,91.63 L485.30,92.14 L485.70,92.39 L486.10,92.26 L486.50,91.68 L486.90,90.77 L487.30,89.68 L487.70,88.51 L488.10,87.39 L488.50,86.42 L488.90,85.39 L489.30,84.30 L489.70,83.22 L490.10,82.20 L490.50,81.28 L490.90,80.52 L491.30,79.81 L491.70,79.11 L492.10,78.46 L492.50,77.89 L492.90,77.42 L493.30,77.10 L493.70,76.92 L494.10,76.78 L494.50,76.65 L494.90,76.53 L495.30,76.43 L495.70,76.35 L496.10,76.28 L496.50,76.23 L496.90,76.21 L497.30,76.20 L497.70,76.23 L498.10,76.30 L498.50,76.40 L498.90,76.53 L499.30,76.69 L499.70,76.87 L500.10,77.06 L500.50,77.28 L500.90,77.50 L501.30,77.78 L501.70,78.15 L502.10,78.60 L502.50,79.14 L502.90,79.74 L503.30,80.41 L503.70,81.13 L504.10,81.90 L504.50,82.87 L504.90,84.11 L505.30,85.50 L505.70,86.91 L506.10,88.20 L506.50,89.61 L506.90,91.03 L507.30,91.86 L507.70,90.84 L508.10,87.75 L508.50,84.69 L508.90,81.23 L509.30,77.73 L509.70,73.97 L510.10,70.18 L510.50,66.74 L510.90,63.98 L511.30,61.67 L511.70,59.76 L512.10,58.28 L512.50,56.99 L512.90,56.62 L513.30,57.07 L513.70,57.86 L514.10,58.71 L514.50,59.69 L514.90,60.84 L515.30,62.10 L515.70,63.45 L516.10,64.91 L516.50,66.48 L516.90,68.12 L517.30,69.83 L517.70,71.56 L518.10,73.46 L518.50,75.67 L518.90,77.88 L519.30,79.74 L519.70,80.94 L520.10,81.87 L520.50,82.71 L520.90,83.44 L521.30,83.99 L521.70,84.32 L522.10,84.39 L522.50,84.26 L522.90,83.96 L523.30,83.53 L523.70,82.99 L524.10,82.37 L524.50,81.70 L524.90,81.01 L525.30,80.31 L525.70,79.64 L526.10,79.03 L526.50,78.50 L526.90,77.99 L527.30,77.44 L527.70,76.88 L528.10,76.34 L528.50,75.83 L528.90,75.40 L529.30,75.06 L529.70,74.83 L530.10,74.72 L530.50,74.61 L530.90,74.52 L531.30,74.43 L531.70,74.36 L532.10,74.30 L532.50,74.25 L532.90,74.22 L533.30,74.20 L533.70,74.20 L534.10,74.22 L534.50,74.24 L534.90,74.28 L535.30,74.33 L535.70,74.40 L536.10,74.48 L536.50,74.57 L536.90,74.67 L537.30,74.78 L537.70,74.90 L538.10,75.04 L538.50,75.32 L538.90,75.78 L539.30,76.36 L539.70,77.03 L540.10,77.76 L540.50,78.50 L540.90,79.34 L541.30,80.35 L541.70,81.46 L542.10,82.63 L542.50,83.81 L542.90,85.36 L543.30,86.96 L543.70,88.04 L544.10,87.84 L544.50,85.92 L544.90,84.29 L545.30,83.02 L545.70,81.78 L546.10,80.35 L546.50,78.46 L546.90,75.78 L547.30,72.64 L547.70,69.51 L548.10,66.83 L548.50,64.92 L548.90,63.30 L549.30,61.96 L549.70,61.00 L550.10,60.28 L550.50,59.75 L550.90,59.62 L551.30,59.94 L551.70,60.52 L552.10,61.16 L552.50,61.94 L552.90,62.92 L553.30,64.10 L553.70,65.77 L554.10,67.97 L554.50,70.33 L554.90,72.45 L555.30,74.05 L555.70,75.50 L556.10,76.84 L556.50,78.07 L556.90,79.17 L557.30,80.11 L557.70,80.88 L558.10,81.61 L558.50,82.32 L558.90,82.98 L559.30,83.55 L559.70,84.00 L560.10,84.29 L560.50,84.40 L560.90,84.31 L561.30,84.06 L561.70,83.69 L562.10,83.23 L562.50,82.71 L562.90,82.18 L563.30,81.67 L563.70,81.21 L564.10,80.84 L564.50,80.57 L564.90,80.32 L565.30,80.06 L565.70,79.82 L566.10,79.59 L566.50,79.39 L566.90,79.22 L567.30,79.09 L567.70,79.02 L568.10,79.00 L568.50,79.00 L568.90,79.00 L569.30,79.00 L569.70,79.00 L570.10,79.00 L570.50,79.00 L570.90,79.00 L571.30,79.00 L571.70,79.00 L572.10,79.05 L572.50,79.18 L572.90,79.40 L573.30,79.68 L573.70,80.03 L574.10,80.42 L574.50,80.85 L574.90,81.30 L575.30,81.78 L575.70,82.33 L576.10,83.07 L576.50,83.98 L576.90,84.99 L577.30,86.07 L577.70,87.15 L578.10,88.20 L578.50,89.43 L578.90,90.87 L579.30,92.17 L579.70,92.98 L580.10,93.09 L580.50,92.96 L580.90,92.71 L581.30,92.31 L581.70,91.35 L582.10,84.37 L582.50,78.62 L582.90,75.44 L583.30,72.86 L583.70,70.87 L584.10,69.50 L584.50,68.54 L584.90,67.79 L585.30,67.29 L585.70,66.98 L586.10,66.73 L586.50,66.61 L586.90,66.79 L587.30,67.45 L587.70,68.30 L588.10,69.16 L588.50,70.20 L588.90,71.38 L589.30,72.67 L589.70,74.19 L590.10,75.89 L590.50,77.64 L590.90,79.35 L591.30,80.90 L591.70,82.20 L592.10,83.40 L592.50,84.53 L592.90,85.54 L593.30,86.39 L593.70,87.05 L594.10,87.60 L594.50,88.08 L594.90,88.46 L595.30,88.70" fill="none" stroke="#e63a2b" stroke-width="1.1" stroke-linejoin="round"/>
<path d="M348.50,75.70 L348.90,75.40 L349.30,75.10 L349.70,74.82 L350.10,74.55 L350.50,74.30 L350.90,74.06 L351.30,73.82 L351.70,73.58 L352.10,73.34 L352.50,73.13 L352.90,72.95 L353.30,72.82 L353.70,72.74 L354.10,72.67 L354.50,72.61 L354.90,72.56 L355.30,72.52 L355.70,72.50 L356.10,72.51 L356.50,72.61 L356.90,72.79 L357.30,73.05 L357.70,73.39 L358.10,73.78 L358.50,74.24 L358.90,74.74 L359.30,75.28 L359.70,75.86 L360.10,76.83 L360.50,78.20 L360.90,79.80 L361.30,81.48 L361.70,83.06 L362.10,84.40 L362.50,85.69 L362.90,86.99 L363.30,87.94 L363.70,88.05 L364.10,85.20 L364.50,81.00 L364.90,76.41 L365.30,71.24 L365.70,66.18 L366.10,60.78 L366.50,55.63 L366.90,51.33 L367.30,48.34 L367.70,45.97 L368.10,44.03 L368.50,42.50 L368.90,41.11 L369.30,40.01 L369.70,39.73 L370.10,40.40 L370.50,41.57 L370.90,42.80 L371.30,44.22 L371.70,45.88 L372.10,47.66 L372.50,49.63 L372.90,51.79 L373.30,54.06 L373.70,56.36 L374.10,58.64 L374.50,60.80 L374.90,62.97 L375.30,65.22 L375.70,67.46 L376.10,69.58 L376.50,71.45 L376.90,72.98 L377.30,74.22 L377.70,75.43 L378.10,76.50 L378.50,77.29 L378.90,77.68 L379.30,77.58 L379.70,77.08 L380.10,76.30 L380.50,75.35 L380.90,74.33 L381.30,73.34 L381.70,72.48 L382.10,71.87 L382.50,71.32 L382.90,70.76 L383.30,70.21 L383.70,69.69 L384.10,69.19 L384.50,68.74 L384.90,68.36 L385.30,68.05 L385.70,67.83 L386.10,67.72 L386.50,67.71 L386.90,67.77 L387.30,67.88 L387.70,68.02 L388.10,68.19 L388.50,68.37 L388.90,68.54 L389.30,68.70 L389.70,68.83 L390.10,68.94 L390.50,69.04 L390.90,69.13 L391.30,69.22 L391.70,69.32 L392.10,69.43 L392.50,69.56 L392.90,69.70 L393.30,69.87 L393.70,70.05 L394.10,70.27 L394.50,70.53 L394.90,70.84 L395.30,71.20 L395.70,71.67 L396.10,72.35 L396.50,73.24 L396.90,74.31 L397.30,76.02 L397.70,78.72 L398.10,80.86 L398.50,80.93 L398.90,79.21 L399.30,77.00 L399.70,74.76 L400.10,72.00 L400.50,67.91 L400.90,63.11 L401.30,59.60 L401.70,57.45 L402.10,55.62 L402.50,54.41 L402.90,54.16 L403.30,55.38 L403.70,57.75 L404.10,60.64 L404.50,63.69 L404.90,67.73 L405.30,72.45 L405.70,77.35 L406.10,81.90 L406.50,86.23 L406.90,90.65 L407.30,94.92 L407.70,98.78 L408.10,102.00 L408.50,104.82 L408.90,107.57 L409.30,110.09 L409.70,112.23 L410.10,113.85 L410.50,114.80 L410.90,115.33 L411.30,115.80 L411.70,116.19 L412.10,116.50 L412.50,116.70 L412.90,116.80 L413.30,116.69 L413.70,116.26 L414.10,115.56 L414.50,114.69 L414.90,113.73 L415.30,112.76 L415.70,111.81 L416.10,110.63 L416.50,109.28 L416.90,107.90 L417.30,106.59 L417.70,105.50 L418.10,104.73 L418.50,104.07 L418.90,103.49 L419.30,103.06 L419.70,102.90 L420.10,103.05 L420.50,103.44 L420.90,104.01 L421.30,104.68 L421.70,105.40 L422.10,106.28 L422.50,107.45 L422.90,108.82 L423.30,110.30 L423.70,111.81 L424.10,113.26 L424.50,114.61 L424.90,115.97 L425.30,117.33 L425.70,118.71 L426.10,120.12 L426.50,121.56 L426.90,123.04 L427.30,124.53 L427.70,126.04 L428.10,127.59 L428.50,129.20 L428.90,130.88 L429.30,132.67 L429.70,134.88 L430.10,137.27 L430.50,139.42 L430.90,140.90 L431.30,141.87 L431.70,142.71 L432.10,143.26 L432.50,143.33 L432.90,142.04 L433.30,140.00 L433.70,137.43 L434.10,134.00 L434.50,129.62 L434.90,124.28 L435.30,118.47 L435.70,112.14 L436.10,104.98 L436.50,98.39 L436.90,93.22 L437.30,88.78 L437.70,85.17 L438.10,82.13 L438.50,80.09 L438.90,78.64 L439.30,78.23 L439.70,78.93 L440.10,80.16 L440.50,81.83 L440.90,84.39 L441.30,87.52 L441.70,90.87 L442.10,95.05 L442.50,99.51 L442.90,103.23 L443.30,106.48 L443.70,109.50 L444.10,112.16 L444.50,114.34 L444.90,116.07 L445.30,117.62 L445.70,119.01 L446.10,120.23 L446.50,121.27 L446.90,122.12 L447.30,122.83 L447.70,123.53 L448.10,124.13 L448.50,124.57 L448.90,124.79 L449.30,124.60 L449.70,123.80 L450.10,122.56 L450.50,121.05 L450.90,119.46 L451.30,117.96 L451.70,116.65 L452.10,115.19 L452.50,113.63 L452.90,112.12 L453.30,110.81 L453.70,109.83 L454.10,109.31 L454.50,108.98 L454.90,108.73 L455.30,108.61 L455.70,108.67 L456.10,108.97 L456.50,109.45 L456.90,110.05 L457.30,110.73 L457.70,111.42 L458.10,112.07 L458.50,112.63 L458.90,113.12 L459.30,113.60 L459.70,114.14 L460.10,114.80 L460.50,115.70 L460.90,116.85 L461.30,118.17 L461.70,119.58 L462.10,121.00 L462.50,122.44 L462.90,123.97 L463.30,125.57 L463.70,127.22 L464.10,128.90 L464.50,130.58 L464.90,132.28 L465.30,134.04 L465.70,135.83 L466.10,137.63 L466.50,139.42 L466.90,141.16 L467.30,142.87 L467.70,144.73 L468.10,146.47 L468.50,147.78 L468.90,148.58 L469.30,149.24 L469.70,149.58 L470.10,149.29 L470.50,148.08 L470.90,146.22 L471.30,144.00 L471.70,140.56 L472.10,135.43 L472.50,129.48 L472.90,123.53 L473.30,117.17 L473.70,110.31 L474.10,103.16 L474.50,95.14 L474.90,88.00 L475.30,82.21 L475.70,77.20 L476.10,74.00 L476.50,72.16 L476.90,70.68 L477.30,69.73 L477.70,69.51 L478.10,69.68 L478.50,70.05 L478.90,70.59 L479.30,71.27 L479.70,72.05 L480.10,72.91 L480.50,73.81 L480.90,74.75 L481.30,76.03 L481.70,77.68 L482.10,79.51 L482.50,81.36 L482.90,83.05 L483.30,84.40 L483.70,85.58 L484.10,86.78 L484.50,87.90 L484.90,88.86 L485.30,89.55 L485.70,89.89 L486.10,89.76 L486.50,89.18 L486.90,88.27 L487.30,87.18 L487.70,86.01 L488.10,84.89 L488.50,83.92 L488.90,82.92 L489.30,81.88 L489.70,80.84 L490.10,79.82 L490.50,78.86 L490.90,77.99 L491.30,77.09 L491.70,76.17 L492.10,75.28 L492.50,74.49 L492.90,73.85 L493.30,73.42 L493.70,73.22 L494.10,73.07 L494.50,72.94 L494.90,72.83 L495.30,72.72 L495.70,72.64 L496.10,72.58 L496.50,72.53 L496.90,72.51 L497.30,72.50 L497.70,72.53 L498.10,72.60 L498.50,72.70 L498.90,72.83 L499.30,72.99 L499.70,73.17 L500.10,73.36 L500.50,73.58 L500.90,73.80 L501.30,74.07 L501.70,74.43 L502.10,74.87 L502.50,75.39 L502.90,75.99 L503.30,76.66 L503.70,77.40 L504.10,78.20 L504.50,79.33 L504.90,80.88 L505.30,82.62 L505.70,84.30 L506.10,85.70 L506.50,86.98 L506.90,88.19 L507.30,88.87 L507.70,87.61 L508.10,83.89 L508.50,80.35 L508.90,76.47 L509.30,72.46 L509.70,68.08 L510.10,63.65 L510.50,59.61 L510.90,56.37 L511.30,53.56 L511.70,51.08 L512.10,49.12 L512.50,47.78 L512.90,46.60 L513.30,45.68 L513.70,45.22 L514.10,45.43 L514.50,46.28 L514.90,47.43 L515.30,48.60 L515.70,50.03 L516.10,51.68 L516.50,53.40 L516.90,55.18 L517.30,57.07 L517.70,59.05 L518.10,61.10 L518.50,63.18 L518.90,65.28 L519.30,67.51 L519.70,70.05 L520.10,72.54 L520.50,74.62 L520.90,75.97 L521.30,77.01 L521.70,77.96 L522.10,78.79 L522.50,79.43 L522.90,79.85 L523.30,80.00 L523.70,79.87 L524.10,79.50 L524.50,78.95 L524.90,78.27 L525.30,77.51 L525.70,76.71 L526.10,75.93 L526.50,75.22 L526.90,74.63 L527.30,74.13 L527.70,73.63 L528.10,73.12 L528.50,72.62 L528.90,72.15 L529.30,71.72 L529.70,71.35 L530.10,71.06 L530.50,70.86 L530.90,70.75 L531.30,70.67 L531.70,70.59 L532.10,70.52 L532.50,70.45 L532.90,70.40 L533.30,70.36 L533.70,70.33 L534.10,70.31 L534.50,70.30 L534.90,70.35 L535.30,70.49 L535.70,70.71 L536.10,71.00 L536.50,71.35 L536.90,71.76 L537.30,72.20 L537.70,72.68 L538.10,73.17 L538.50,73.76 L538.90,74.59 L539.30,75.61 L539.70,76.73 L540.10,77.88 L540.50,78.99 L540.90,80.03 L541.30,81.26 L541.70,82.58 L542.10,83.83 L542.50,84.86 L542.90,85.53 L543.30,85.62 L543.70,84.13 L544.10,81.91 L544.50,80.29 L544.90,79.01 L545.30,77.84 L545.70,76.64 L546.10,75.28 L546.50,73.58 L546.90,71.32 L547.30,68.77 L547.70,66.25 L548.10,64.12 L548.50,62.60 L548.90,61.31 L549.30,60.25 L549.70,59.50 L550.10,58.94 L550.50,58.52 L550.90,58.41 L551.30,58.66 L551.70,59.12 L552.10,59.63 L552.50,60.28 L552.90,61.11 L553.30,62.10 L553.70,63.43 L554.10,65.15 L554.50,67.00 L554.90,68.75 L555.30,70.20 L555.70,71.60 L556.10,72.97 L556.50,74.25 L556.90,75.40 L557.30,76.39 L557.70,77.18 L558.10,77.91 L558.50,78.62 L558.90,79.28 L559.30,79.85 L559.70,80.30 L560.10,80.59 L560.50,80.70 L560.90,80.58 L561.30,80.24 L561.70,79.74 L562.10,79.13 L562.50,78.44 L562.90,77.72 L563.30,77.03 L563.70,76.40 L564.10,75.90 L564.50,75.53 L564.90,75.18 L565.30,74.85 L565.70,74.53 L566.10,74.24 L566.50,73.97 L566.90,73.73 L567.30,73.53 L567.70,73.38 L568.10,73.28 L568.50,73.19 L568.90,73.11 L569.30,73.04 L569.70,72.97 L570.10,72.91 L570.50,72.86 L570.90,72.83 L571.30,72.81 L571.70,72.80 L572.10,72.85 L572.50,73.00 L572.90,73.22 L573.30,73.52 L573.70,73.87 L574.10,74.26 L574.50,74.69 L574.90,75.13 L575.30,75.59 L575.70,76.08 L576.10,76.71 L576.50,77.45 L576.90,78.27 L577.30,79.14 L577.70,80.02 L578.10,80.89 L578.50,81.71 L578.90,82.55 L579.30,83.54 L579.70,84.51 L580.10,85.29 L580.50,85.68 L580.90,85.20 L581.30,83.18 L581.70,80.00 L582.10,72.00 L582.50,68.48 L582.90,65.80 L583.30,63.76 L583.70,62.15 L584.10,60.80 L584.50,59.58 L584.90,58.56 L585.30,57.78 L585.70,57.26 L586.10,56.84 L586.50,56.61 L586.90,56.73 L587.30,57.22 L587.70,57.85 L588.10,58.50 L588.50,59.31 L588.90,60.27 L589.30,61.39 L589.70,62.82 L590.10,64.48 L590.50,66.26 L590.90,68.04 L591.30,69.70 L591.70,71.14 L592.10,72.50 L592.50,73.84 L592.90,75.12 L593.30,76.29 L593.70,77.33 L594.10,78.20 L594.50,78.94 L594.90,79.60 L595.30,80.16 L595.70,80.61" fill="none" stroke="#3040c8" stroke-width="1.1" stroke-linejoin="round" stroke-dasharray="0.9 0.8"/>
<line x1="347.90" y1="65.40" x2="595.20" y2="65.40" stroke="#000" stroke-width="1.0" stroke-dasharray="3.2 1.1"/>
<rect x="347.90" y="4.30" width="251.10" height="174.60" fill="none" stroke="#000" stroke-width="1.35"/>
<text transform="translate(347.90,192.50) scale(0.940,1)" font-size="13.2" text-anchor="middle">7</text>
<path d="M383.77,178.90 v-2.7 M383.77,4.30 v2.7" stroke="#000" stroke-width="0.9"/>
<text transform="translate(383.77,192.50) scale(0.940,1)" font-size="13.2" text-anchor="middle">8</text>
<path d="M419.64,178.90 v-2.7 M419.64,4.30 v2.7" stroke="#000" stroke-width="0.9"/>
<text transform="translate(419.64,192.50) scale(0.940,1)" font-size="13.2" text-anchor="middle">9</text>
<path d="M455.51,178.90 v-2.7 M455.51,4.30 v2.7" stroke="#000" stroke-width="0.9"/>
<text transform="translate(455.51,192.50) scale(0.940,1)" font-size="13.2" text-anchor="middle">10</text>
<path d="M491.39,178.90 v-2.7 M491.39,4.30 v2.7" stroke="#000" stroke-width="0.9"/>
<text transform="translate(491.39,192.50) scale(0.940,1)" font-size="13.2" text-anchor="middle">11</text>
<path d="M527.26,178.90 v-2.7 M527.26,4.30 v2.7" stroke="#000" stroke-width="0.9"/>
<text transform="translate(527.26,192.50) scale(0.940,1)" font-size="13.2" text-anchor="middle">12</text>
<path d="M563.13,178.90 v-2.7 M563.13,4.30 v2.7" stroke="#000" stroke-width="0.9"/>
<text transform="translate(563.13,192.50) scale(0.940,1)" font-size="13.2" text-anchor="middle">13</text>
<text transform="translate(599.00,192.50) scale(0.940,1)" font-size="13.2" text-anchor="middle">14</text>
<text transform="translate(344.50,183.10) scale(0.940,1)" font-size="13.2" text-anchor="end">5</text>
<path d="M347.90,135.25 h2.7 M599.00,135.25 h-2.7" stroke="#000" stroke-width="0.9"/>
<text transform="translate(344.50,139.45) scale(0.940,1)" font-size="13.2" text-anchor="end">10</text>
<path d="M347.90,91.60 h2.7 M599.00,91.60 h-2.7" stroke="#000" stroke-width="0.9"/>
<text transform="translate(344.50,95.80) scale(0.940,1)" font-size="13.2" text-anchor="end">15</text>
<path d="M347.90,47.95 h2.7 M599.00,47.95 h-2.7" stroke="#000" stroke-width="0.9"/>
<text transform="translate(344.50,52.15) scale(0.940,1)" font-size="13.2" text-anchor="end">20</text>
<text transform="translate(344.50,8.50) scale(0.940,1)" font-size="13.2" text-anchor="end">25</text>
<text transform="translate(473.00,211.40) scale(0.940,1)" font-size="14.4" text-anchor="middle">Time(days)</text>
<text transform="translate(321.90,92.40) rotate(-90) scale(0.940,1)" font-size="14.4" text-anchor="middle">N<tspan font-size="11" dy="4.0">tot</tspan><tspan dy="-4.0">(mg/l)</tspan></text>
<line x1="443.00" y1="20.20" x2="470.20" y2="20.20" stroke="#e63a2b" stroke-width="1.2"/>
<text transform="translate(474.00,25.30) scale(0.955,1)" font-size="13.1" text-anchor="start">DMOOC</text>
<line x1="525.20" y1="20.20" x2="552.80" y2="20.20" stroke="#3040c8" stroke-width="1.1" stroke-dasharray="1 1"/>
<text transform="translate(557.00,25.30) scale(0.955,1)" font-size="13.1" text-anchor="start">PID</text>
<path d="M36.90,327.70 L39.10,337.10 L40.70,342.10 L42.40,343.20 L43.60,342.60 L45.70,344.20 L47.90,343.70 L48.50,339.60 L49.50,323.10 L50.70,309.80 L52.30,306.20 L53.50,311.50 L54.80,316.40 L56.40,320.60 L58.90,326.40 L61.10,330.00 L63.10,326.40 L65.50,322.20 L67.70,320.10 L70.50,322.70 L72.60,325.00 L74.30,326.70 L75.50,334.60 L77.10,342.90 L78.80,344.50 L81.20,343.70 L84.20,343.20 L84.90,331.30 L85.50,306.50 L86.20,290.00 L87.20,262.20 L88.70,282.10 L89.80,290.00 L91.20,299.90 L92.80,308.20 L94.50,318.10 L96.10,326.40 L97.40,331.00 L98.60,329.70 L99.80,329.30 L100.70,334.30 L101.90,332.60 L103.60,330.00 L105.20,329.30 L106.40,331.30 L107.70,337.10 L109.30,344.50 L111.00,351.20 L112.60,359.40 L114.00,364.20 L115.70,367.00 L117.90,372.00 L119.50,372.50 L120.70,364.50 L121.50,349.70 L122.80,338.10 L124.50,335.30 L126.10,338.40 L127.40,336.40 L128.40,338.90 L130.10,344.70 L131.70,348.80 L133.40,351.30 L135.00,349.70 L136.70,349.30 L138.00,345.50 L139.30,342.20 L141.00,344.70 L142.60,346.00 L144.60,348.30 L145.90,353.80 L147.10,361.20 L148.30,367.00 L149.80,372.20 L152.30,374.70 L154.80,378.30 L156.40,380.50 L157.30,386.30 L158.40,389.30 L159.80,381.30 L160.90,380.20 L162.20,382.60 L163.90,377.20 L165.50,372.20 L168.00,368.40 L169.70,364.80 L171.00,360.70 L172.10,361.20 L173.80,354.00 L176.00,347.40 L177.90,343.30 L180.40,349.10 L182.90,354.50 L185.40,358.50 L187.90,357.40 L189.80,357.90 L191.70,356.50 L192.50,348.30 L193.30,340.00 L194.10,329.70 L195.30,323.10 L196.30,321.40 L197.40,326.40 L199.60,329.70 L201.90,333.30 L204.50,336.30 L207.40,332.10 L209.50,328.80 L211.20,327.20 L214.00,328.80 L215.60,334.60 L218.10,340.40 L220.60,344.50 L222.20,346.50 L224.70,346.20 L226.70,347.50 L228.30,346.20 L229.30,339.60 L230.50,329.70 L231.80,326.40 L233.80,330.50 L236.30,334.30 L238.80,337.10 L240.90,339.30 L243.20,337.10 L245.40,335.00 L247.50,334.00 L250.30,335.50 L252.80,337.60 L254.50,342.10 L256.10,346.20 L258.10,347.90 L260.20,347.90 L262.70,347.40 L264.00,344.50 L265.20,336.30 L266.40,327.20 L267.70,323.90 L269.30,328.80 L271.30,332.10 L273.50,334.60 L276.00,338.30 L277.60,336.30 L278.80,335.50 L280.10,336.80 L281.70,334.30 L283.40,333.00 L284.50,332.10" fill="none" stroke="#e63a2b" stroke-width="1.1" stroke-linejoin="round"/>
<path d="M36.90,328.30 L39.10,337.70 L40.70,342.70 L42.40,343.80 L43.60,343.20 L45.70,344.80 L47.90,344.30 L48.50,340.20 L49.50,323.70 L50.70,310.40 L52.30,306.80 L53.50,312.10 L54.80,317.00 L56.40,321.20 L58.90,327.00 L61.10,330.60 L63.10,327.00 L65.50,322.80 L67.70,320.70 L70.50,323.30 L72.60,325.60 L74.30,327.30 L75.50,335.20 L77.10,343.50 L78.80,345.10 L81.20,344.30 L84.20,343.80 L84.90,331.90 L85.50,307.10 L86.20,290.60 L87.20,262.80 L88.70,282.70 L89.80,290.60 L91.20,300.50 L92.80,308.80 L94.50,318.70 L96.10,327.00 L97.40,331.60 L98.60,330.30 L99.80,329.90 L100.70,334.90 L101.90,333.20 L103.60,330.60 L105.20,329.90 L106.40,331.90 L107.70,337.70 L109.30,345.10 L111.00,351.80 L112.60,360.00 L114.00,364.80 L115.70,367.60 L117.90,372.60 L119.50,373.10 L120.70,365.10 L121.50,350.30 L122.80,338.70 L124.50,335.90 L126.10,339.00 L127.40,337.00 L128.40,339.50 L130.10,345.30 L131.70,349.40 L133.40,351.90 L135.00,350.30 L136.70,349.90 L138.00,346.10 L139.30,342.80 L141.00,345.30 L142.60,346.60 L144.60,348.90 L145.90,354.40 L147.10,361.80 L148.30,367.60 L149.80,372.80 L152.30,375.30 L154.80,378.90 L156.40,381.10 L157.30,386.90 L158.40,389.90 L159.80,381.90 L160.90,380.80 L162.20,383.20 L163.90,377.80 L165.50,372.80 L168.00,369.00 L169.70,365.40 L171.00,361.30 L172.10,361.80 L173.80,354.60 L176.00,348.00 L177.90,343.90 L180.40,349.70 L182.90,355.10 L185.40,359.10 L187.90,358.00 L189.80,358.50 L191.70,357.10 L192.50,348.90 L193.30,340.60 L194.10,330.30 L195.30,323.70 L196.30,322.00 L197.40,327.00 L199.60,330.30 L201.90,333.90 L204.50,336.90 L207.40,332.70 L209.50,329.40 L211.20,327.80 L214.00,329.40 L215.60,335.20 L218.10,341.00 L220.60,345.10 L222.20,347.10 L224.70,346.80 L226.70,348.10 L228.30,346.80 L229.30,340.20 L230.50,330.30 L231.80,327.00 L233.80,331.10 L236.30,334.90 L238.80,337.70 L240.90,339.90 L243.20,337.70 L245.40,335.60 L247.50,334.60 L250.30,336.10 L252.80,338.20 L254.50,342.70 L256.10,346.80 L258.10,348.50 L260.20,348.50 L262.70,348.00 L264.00,345.10 L265.20,336.90 L266.40,327.80 L267.70,324.50 L269.30,329.40 L271.30,332.70 L273.50,335.20 L276.00,338.90 L277.60,336.90 L278.80,336.10 L280.10,337.40 L281.70,334.90 L283.40,333.60 L284.50,332.70" fill="none" stroke="#3040c8" stroke-width="1.0" stroke-linejoin="round" stroke-dasharray="0.9 0.8"/>
<rect x="36.70" y="232.60" width="251.40" height="174.30" fill="none" stroke="#000" stroke-width="1.35"/>
<text transform="translate(36.70,420.50) scale(0.940,1)" font-size="13.2" text-anchor="middle">7</text>
<path d="M72.61,406.90 v-2.7 M72.61,232.60 v2.7" stroke="#000" stroke-width="0.9"/>
<text transform="translate(72.61,420.50) scale(0.940,1)" font-size="13.2" text-anchor="middle">8</text>
<path d="M108.53,406.90 v-2.7 M108.53,232.60 v2.7" stroke="#000" stroke-width="0.9"/>
<text transform="translate(108.53,420.50) scale(0.940,1)" font-size="13.2" text-anchor="middle">9</text>
<path d="M144.44,406.90 v-2.7 M144.44,232.60 v2.7" stroke="#000" stroke-width="0.9"/>
<text transform="translate(144.44,420.50) scale(0.940,1)" font-size="13.2" text-anchor="middle">10</text>
<path d="M180.36,406.90 v-2.7 M180.36,232.60 v2.7" stroke="#000" stroke-width="0.9"/>
<text transform="translate(180.36,420.50) scale(0.940,1)" font-size="13.2" text-anchor="middle">11</text>
<path d="M216.27,406.90 v-2.7 M216.27,232.60 v2.7" stroke="#000" stroke-width="0.9"/>
<text transform="translate(216.27,420.50) scale(0.940,1)" font-size="13.2" text-anchor="middle">12</text>
<path d="M252.19,406.90 v-2.7 M252.19,232.60 v2.7" stroke="#000" stroke-width="0.9"/>
<text transform="translate(252.19,420.50) scale(0.940,1)" font-size="13.2" text-anchor="middle">13</text>
<text transform="translate(288.10,420.50) scale(0.940,1)" font-size="13.2" text-anchor="middle">14</text>
<text transform="translate(34.10,411.10) scale(0.940,1)" font-size="13.2" text-anchor="end">30</text>
<path d="M36.70,363.32 h2.7 M288.10,363.32 h-2.7" stroke="#000" stroke-width="0.9"/>
<text transform="translate(34.10,367.52) scale(0.940,1)" font-size="13.2" text-anchor="end">40</text>
<path d="M36.70,319.75 h2.7 M288.10,319.75 h-2.7" stroke="#000" stroke-width="0.9"/>
<text transform="translate(34.10,323.95) scale(0.940,1)" font-size="13.2" text-anchor="end">50</text>
<path d="M36.70,276.17 h2.7 M288.10,276.17 h-2.7" stroke="#000" stroke-width="0.9"/>
<text transform="translate(34.10,280.37) scale(0.940,1)" font-size="13.2" text-anchor="end">60</text>
<text transform="translate(34.10,236.80) scale(0.940,1)" font-size="13.2" text-anchor="end">70</text>
<text transform="translate(161.30,439.50) scale(0.940,1)" font-size="14.4" text-anchor="middle">Time(days)</text>
<text transform="translate(11.20,322.40) rotate(-90) scale(0.940,1)" font-size="14.4" text-anchor="middle">COD(mg/l)</text>
<line x1="130.40" y1="255.70" x2="157.70" y2="255.70" stroke="#e63a2b" stroke-width="1.2"/>
<text transform="translate(161.30,260.60) scale(0.955,1)" font-size="13.1" text-anchor="start">DMOOC</text>
<line x1="212.20" y1="255.70" x2="240.80" y2="255.70" stroke="#3040c8" stroke-width="1.1" stroke-dasharray="1 1"/>
<text transform="translate(244.40,260.60) scale(0.955,1)" font-size="13.1" text-anchor="start">PID</text>
<path d="M348.30,375.50 L349.90,383.00 L351.60,392.90 L353.20,397.00 L354.90,397.50 L356.50,397.90 L358.50,399.20 L359.80,396.20 L360.70,383.00 L361.50,364.80 L362.50,348.30 L363.60,343.00 L364.80,349.10 L366.10,355.70 L367.30,358.20 L368.40,364.00 L370.10,368.90 L371.70,373.90 L372.70,375.20 L374.40,371.40 L376.40,366.10 L378.00,362.80 L379.20,361.50 L381.30,364.50 L383.30,368.10 L384.60,369.80 L385.50,370.60 L386.30,379.70 L387.60,389.60 L388.80,396.20 L389.90,398.70 L391.60,397.90 L393.20,398.20 L395.00,398.20 L395.70,389.60 L396.20,373.10 L396.70,356.50 L397.00,327.70 L397.40,304.60 L397.90,284.80 L398.60,273.20 L399.60,271.20 L400.40,276.50 L401.20,284.80 L401.90,287.20 L403.60,289.70 L404.90,293.80 L406.50,300.50 L407.90,304.60 L408.80,305.90 L409.80,301.30 L410.80,297.60 L411.50,300.50 L412.10,303.80 L412.80,298.00 L414.00,292.20 L415.10,288.10 L416.40,286.10 L417.60,288.90 L418.60,294.70 L419.80,302.90 L421.40,311.20 L422.70,317.80 L424.00,328.80 L425.20,330.60 L426.20,328.90 L427.40,332.20 L429.00,335.00 L430.20,335.00 L431.20,331.40 L431.90,316.50 L432.60,300.00 L433.20,289.00 L433.80,279.80 L434.60,277.30 L435.90,278.10 L436.80,283.90 L437.60,287.20 L439.10,287.70 L440.10,293.00 L441.60,299.60 L443.20,304.60 L444.50,307.10 L446.20,302.90 L447.90,301.60 L449.20,297.10 L450.70,291.70 L452.00,294.70 L453.60,298.00 L455.30,298.80 L456.60,302.10 L457.40,309.50 L458.60,321.10 L459.50,328.00 L461.00,334.70 L462.60,335.50 L464.30,334.70 L466.20,336.00 L467.60,338.00 L468.20,345.50 L469.20,349.30 L470.20,349.60 L470.90,343.30 L471.50,340.50 L472.40,344.60 L473.20,350.40 L474.50,356.20 L476.20,360.30 L477.80,363.60 L479.50,367.40 L480.60,369.40 L481.40,366.10 L482.30,363.60 L483.10,366.90 L483.60,369.10 L484.40,364.50 L485.70,360.30 L487.40,357.90 L488.60,357.20 L489.70,358.20 L490.70,364.50 L491.90,372.70 L493.90,383.00 L496.10,391.60 L498.20,392.60 L500.40,395.40 L502.50,396.30 L503.60,391.60 L504.70,372.20 L505.70,352.90 L507.20,346.70 L508.70,354.00 L510.00,358.90 L512.00,363.60 L514.10,370.10 L516.30,373.90 L518.40,370.10 L520.60,365.80 L522.70,363.20 L525.50,366.20 L527.00,375.50 L529.10,385.10 L531.90,393.70 L534.70,396.30 L537.30,398.00 L539.00,396.30 L540.10,387.30 L541.20,375.50 L542.90,367.90 L544.80,373.30 L547.00,378.70 L549.80,384.00 L552.40,387.30 L554.90,384.00 L557.70,380.80 L560.90,382.50 L563.50,385.10 L564.80,389.40 L566.30,396.90 L568.50,401.90 L570.60,402.30 L572.80,401.70 L574.90,402.30 L576.00,395.90 L577.10,383.00 L578.10,372.20 L579.20,367.50 L580.70,373.30 L582.40,378.70 L584.60,383.00 L586.70,386.80 L588.00,387.70 L589.30,384.70 L590.60,384.00 L591.70,386.20 L593.20,381.90 L594.70,379.70 L595.80,378.70" fill="none" stroke="#e63a2b" stroke-width="1.1" stroke-linejoin="round"/>
<path d="M348.30,376.00 L349.90,383.50 L351.60,393.40 L353.20,397.50 L354.90,398.00 L356.50,398.40 L358.50,399.70 L359.80,396.70 L360.70,383.50 L361.50,365.30 L362.50,348.80 L363.60,343.50 L364.80,349.60 L366.10,356.20 L367.30,358.70 L368.40,364.50 L370.10,369.40 L371.70,374.40 L372.70,375.70 L374.40,371.90 L376.40,366.60 L378.00,363.30 L379.20,362.00 L381.30,365.00 L383.30,368.60 L384.60,370.30 L385.50,371.10 L386.30,380.20 L387.60,390.10 L388.80,396.70 L389.90,399.20 L391.60,398.40 L393.20,398.70 L395.00,398.70 L395.70,390.10 L396.20,373.60 L396.70,357.00 L397.00,328.20 L397.40,305.10 L397.90,285.30 L398.60,273.70 L399.60,271.70 L400.40,277.00 L401.20,285.30 L401.90,287.70 L403.60,290.20 L404.90,294.30 L406.50,301.00 L407.90,305.10 L408.80,306.40 L409.80,301.80 L410.80,298.10 L411.50,301.00 L412.10,304.30 L412.80,298.50 L414.00,292.70 L415.10,288.60 L416.40,286.60 L417.60,289.40 L418.60,295.20 L419.80,303.40 L421.40,311.70 L422.70,318.30 L424.00,329.30 L425.20,331.10 L426.20,329.40 L427.40,332.70 L429.00,335.50 L430.20,335.50 L431.20,331.90 L431.90,317.00 L432.60,300.50 L433.20,289.50 L433.80,280.30 L434.60,277.80 L435.90,278.60 L436.80,284.40 L437.60,287.70 L439.10,288.20 L440.10,293.50 L441.60,300.10 L443.20,305.10 L444.50,307.60 L446.20,303.40 L447.90,302.10 L449.20,297.60 L450.70,292.20 L452.00,295.20 L453.60,298.50 L455.30,299.30 L456.60,302.60 L457.40,310.00 L458.60,321.60 L459.50,328.50 L461.00,335.20 L462.60,336.00 L464.30,335.20 L466.20,336.50 L467.60,338.50 L468.20,346.00 L469.20,349.80 L470.20,350.10 L470.90,343.80 L471.50,341.00 L472.40,345.10 L473.20,350.90 L474.50,356.70 L476.20,360.80 L477.80,364.10 L479.50,367.90 L480.60,369.90 L481.40,366.60 L482.30,364.10 L483.10,367.40 L483.60,369.60 L484.40,365.00 L485.70,360.80 L487.40,358.40 L488.60,357.70 L489.70,358.70 L490.70,365.00 L491.90,373.20 L493.90,383.50 L496.10,392.10 L498.20,393.10 L500.40,395.90 L502.50,396.80 L503.60,392.10 L504.70,372.70 L505.70,353.40 L507.20,347.20 L508.70,354.50 L510.00,359.40 L512.00,364.10 L514.10,370.60 L516.30,374.40 L518.40,370.60 L520.60,366.30 L522.70,363.70 L525.50,366.70 L527.00,376.00 L529.10,385.60 L531.90,394.20 L534.70,396.80 L537.30,398.50 L539.00,396.80 L540.10,387.80 L541.20,376.00 L542.90,368.40 L544.80,373.80 L547.00,379.20 L549.80,384.50 L552.40,387.80 L554.90,384.50 L557.70,381.30 L560.90,383.00 L563.50,385.60 L564.80,389.90 L566.30,397.40 L568.50,402.40 L570.60,402.80 L572.80,402.20 L574.90,402.80 L576.00,396.40 L577.10,383.50 L578.10,372.70 L579.20,368.00 L580.70,373.80 L582.40,379.20 L584.60,383.50 L586.70,387.30 L588.00,388.20 L589.30,385.20 L590.60,384.50 L591.70,386.70 L593.20,382.40 L594.70,380.20 L595.80,379.20" fill="none" stroke="#3040c8" stroke-width="1.0" stroke-linejoin="round" stroke-dasharray="0.9 0.8"/>
<rect x="348.00" y="232.60" width="250.80" height="174.30" fill="none" stroke="#000" stroke-width="1.35"/>
<text transform="translate(348.00,420.50) scale(0.940,1)" font-size="13.2" text-anchor="middle">7</text>
<path d="M383.83,406.90 v-1.8 M383.83,232.60 v1.8" stroke="#000" stroke-width="0.9"/>
<text transform="translate(383.83,420.50) scale(0.940,1)" font-size="13.2" text-anchor="middle">8</text>
<path d="M419.66,406.90 v-1.8 M419.66,232.60 v1.8" stroke="#000" stroke-width="0.9"/>
<text transform="translate(419.66,420.50) scale(0.940,1)" font-size="13.2" text-anchor="middle">9</text>
<path d="M455.49,406.90 v-1.8 M455.49,232.60 v1.8" stroke="#000" stroke-width="0.9"/>
<text transform="translate(455.49,420.50) scale(0.940,1)" font-size="13.2" text-anchor="middle">10</text>
<path d="M491.31,406.90 v-1.8 M491.31,232.60 v1.8" stroke="#000" stroke-width="0.9"/>
<text transform="translate(491.31,420.50) scale(0.940,1)" font-size="13.2" text-anchor="middle">11</text>
<path d="M527.14,406.90 v-1.8 M527.14,232.60 v1.8" stroke="#000" stroke-width="0.9"/>
<text transform="translate(527.14,420.50) scale(0.940,1)" font-size="13.2" text-anchor="middle">12</text>
<path d="M562.97,406.90 v-1.8 M562.97,232.60 v1.8" stroke="#000" stroke-width="0.9"/>
<text transform="translate(562.97,420.50) scale(0.940,1)" font-size="13.2" text-anchor="middle">13</text>
<text transform="translate(598.80,420.50) scale(0.940,1)" font-size="13.2" text-anchor="middle">14</text>
<text transform="translate(345.00,411.30) scale(0.940,1)" font-size="13.2" text-anchor="end">2</text>
<path d="M348.00,384.60 h1.8 M598.80,384.60 h-1.8" stroke="#000" stroke-width="0.9"/>
<text transform="translate(345.00,388.80) scale(0.940,1)" font-size="13.2" text-anchor="end">2.5</text>
<path d="M348.00,362.10 h1.8 M598.80,362.10 h-1.8" stroke="#000" stroke-width="0.9"/>
<text transform="translate(345.00,366.30) scale(0.940,1)" font-size="13.2" text-anchor="end">3</text>
<path d="M348.00,339.60 h1.8 M598.80,339.60 h-1.8" stroke="#000" stroke-width="0.9"/>
<text transform="translate(345.00,343.80) scale(0.940,1)" font-size="13.2" text-anchor="end">3.5</text>
<path d="M348.00,317.10 h1.8 M598.80,317.10 h-1.8" stroke="#000" stroke-width="0.9"/>
<text transform="translate(345.00,321.30) scale(0.940,1)" font-size="13.2" text-anchor="end">4</text>
<path d="M348.00,294.60 h1.8 M598.80,294.60 h-1.8" stroke="#000" stroke-width="0.9"/>
<text transform="translate(345.00,298.80) scale(0.940,1)" font-size="13.2" text-anchor="end">4.5</text>
<path d="M348.00,272.10 h1.8 M598.80,272.10 h-1.8" stroke="#000" stroke-width="0.9"/>
<text transform="translate(345.00,276.30) scale(0.940,1)" font-size="13.2" text-anchor="end">5</text>
<path d="M348.00,249.60 h1.8 M598.80,249.60 h-1.8" stroke="#000" stroke-width="0.9"/>
<text transform="translate(345.00,253.80) scale(0.940,1)" font-size="13.2" text-anchor="end">5.5</text>
<text transform="translate(473.00,439.50) scale(0.940,1)" font-size="14.4" text-anchor="middle">Time(days)</text>
<text transform="translate(318.60,318.60) rotate(-90) scale(0.940,1)" font-size="14.4" text-anchor="middle">BOD<tspan font-size="11" dy="4.0">5</tspan><tspan dy="-4.0">(mg/l)</tspan></text>
<line x1="452.40" y1="256.00" x2="479.70" y2="256.00" stroke="#ee7a6e" stroke-width="1.9"/>
<text transform="translate(483.60,261.00) scale(0.955,1)" font-size="13.1" text-anchor="start">DMOOC</text>
<line x1="534.70" y1="256.00" x2="562.70" y2="256.00" stroke="#8590e0" stroke-width="1.7" stroke-dasharray="1 1"/>
<text transform="translate(566.50,261.00) scale(0.955,1)" font-size="13.1" text-anchor="start">PID</text>
</svg></body></html>
